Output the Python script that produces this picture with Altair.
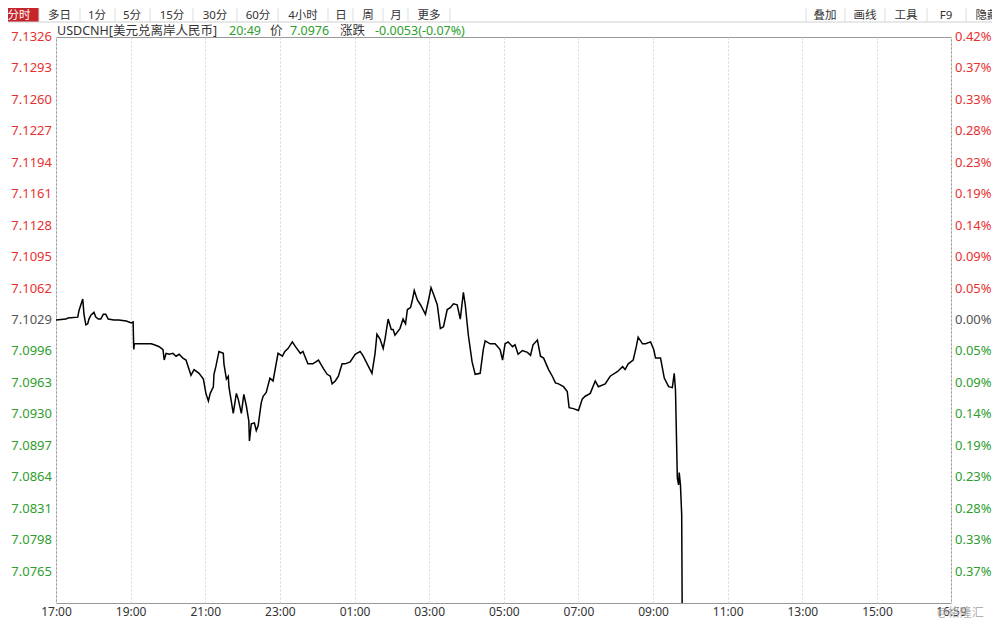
import json
import altair as alt
import pandas as pd

# ---------------- data ----------------
times = [
    "17:00", "17:16", "17:19", "17:35", "17:37", "17:43", "17:45", "17:48", "17:51", "17:53",
    "17:56", "18:01", "18:04", "18:08", "18:12", "18:16", "18:20", "18:24", "18:33", "18:41",
    "18:53", "19:01", "19:04", "19:05", "19:06", "19:12", "19:33", "19:38", "19:46", "19:52",
    "19:54", "19:57", "20:02", "20:08", "20:13", "20:18", "20:24", "20:29", "20:34", "20:37",
    "20:42", "20:50", "20:57", "21:01", "21:05", "21:08", "21:13", "21:14", "21:17", "21:22",
    "21:29", "21:30", "21:34", "21:37", "21:38", "21:45", "21:50", "21:53", "21:58", "22:02",
    "22:06", "22:10", "22:11", "22:14", "22:19", "22:22", "22:25", "22:30", "22:33", "22:38",
    "22:44", "22:49", "22:57", "23:04", "23:08", "23:13", "23:20", "23:25", "23:33", "23:37",
    "23:45", "23:53", "00:02", "00:10", "00:16", "00:21", "00:24", "00:29", "00:34", "00:40",
    "00:45", "00:53", "01:01", "01:09", "01:14", "01:28", "01:33", "01:36", "01:41", "01:46",
    "01:49", "01:54", "01:59", "02:02", "02:05", "02:13", "02:18", "02:22", "02:25", "02:30",
    "02:33", "02:36", "02:41", "02:46", "02:54", "02:59", "03:03", "03:07", "03:13", "03:18",
    "03:23", "03:29", "03:34", "03:39", "03:45", "03:50", "03:55", "03:58", "04:03", "04:09",
    "04:14", "04:22", "04:27", "04:30", "04:38", "04:46", "04:54", "04:58", "05:02", "05:07",
    "05:14", "05:18", "05:23", "05:30", "05:38", "05:43", "05:47", "05:54", "05:59", "06:04",
    "06:12", "06:18", "06:23", "06:28", "06:36", "06:42", "06:45", "06:52", "07:00", "07:06",
    "07:11", "07:19", "07:27", "07:32", "07:43", "07:51", "08:03", "08:11", "08:15", "08:20",
    "08:28", "08:33", "08:36", "08:43", "08:48", "08:56", "09:01", "09:04", "09:12", "09:18",
    "09:25", "09:31", "09:34", "09:36", "09:38", "09:39", "09:41", "09:42", "09:44", "09:46",
    "09:47",
]
prices = [
    7.1029, 7.1030, 7.1031, 7.1032, 7.1039, 7.1051, 7.1035, 7.1024, 7.1025, 7.1030,
    7.1034, 7.1037, 7.1032, 7.1030, 7.1030, 7.1035, 7.1035, 7.1030, 7.1029, 7.1029,
    7.1028, 7.1026, 7.1027, 7.0998, 7.1004, 7.1004, 7.1004, 7.1003, 7.1001, 7.0998,
    7.0987, 7.0994, 7.0993, 7.0994, 7.0991, 7.0993, 7.0989, 7.0987, 7.0977, 7.0971,
    7.0977, 7.0973, 7.0967, 7.0952, 7.0944, 7.0952, 7.0959, 7.0972, 7.0980, 7.0996,
    7.0994, 7.0983, 7.0967, 7.0970, 7.0959, 7.0931, 7.0952, 7.0946, 7.0931, 7.0951,
    7.0939, 7.0923, 7.0902, 7.0920, 7.0921, 7.0913, 7.0918, 7.0942, 7.0949, 7.0953,
    7.0968, 7.0965, 7.0994, 7.0991, 7.0996, 7.0999, 7.1006, 7.1001, 7.0994, 7.0996,
    7.0983, 7.0983, 7.0987, 7.0978, 7.0972, 7.0970, 7.0962, 7.0965, 7.0970, 7.0983,
    7.0983, 7.0985, 7.0993, 7.0996, 7.0991, 7.0973, 7.0994, 7.1014, 7.1009, 7.0999,
    7.1009, 7.1030, 7.1019, 7.1019, 7.1013, 7.1020, 7.1030, 7.1025, 7.1040, 7.1042,
    7.1050, 7.1060, 7.1050, 7.1045, 7.1035, 7.1050, 7.1063, 7.1056, 7.1045, 7.1020,
    7.1022, 7.1040, 7.1042, 7.1046, 7.1045, 7.1030, 7.1058, 7.1045, 7.1013, 7.0985,
    7.0972, 7.0973, 7.0998, 7.1007, 7.1004, 7.1004, 7.0998, 7.0987, 7.1004, 7.1006,
    7.1001, 7.1003, 7.0993, 7.0997, 7.0995, 7.0992, 7.1003, 7.1008, 7.0991, 7.0989,
    7.0977, 7.0970, 7.0963, 7.0962, 7.0959, 7.0954, 7.0937, 7.0936, 7.0934, 7.0946,
    7.0949, 7.0952, 7.0965, 7.0959, 7.0962, 7.0970, 7.0975, 7.0980, 7.0977, 7.0983,
    7.0987, 7.1001, 7.1011, 7.1004, 7.1004, 7.1006, 7.0998, 7.0989, 7.0989, 7.0968,
    7.0959, 7.0958, 7.0973, 7.0956, 7.0894, 7.0863, 7.0856, 7.0869, 7.0856, 7.0825,
    7.0700,
]
base_price = 7.1029
y_domain = [7.0732, 7.1326]
y_ticks = [7.1326, 7.1293, 7.1260, 7.1227, 7.1194, 7.1161, 7.1128, 7.1095, 7.1062,
           7.1029, 7.0996, 7.0963, 7.0930, 7.0897, 7.0864, 7.0831, 7.0798, 7.0765]
x_tick_minutes = [0, 120, 240, 360, 480, 600, 720, 840, 960, 1080, 1200, 1320, 1439]
x_tick_labels = ["17:00", "19:00", "21:00", "23:00", "01:00", "03:00", "05:00",
                 "07:00", "09:00", "11:00", "13:00", "15:00", "16:59"]
toolbar_left = ["分时", "多日", "1分", "5分", "15分", "30分", "60分", "4小时", "日", "周", "月", "更多"]
toolbar_right = ["叠加", "画线", "工具", "F9", "隐藏"]
header_parts = ["USDCNH[美元兑离岸人民币]", "20:49", "价", "7.0976", "涨跌", "-0.0053(-0.07%)"]
watermark = "@格隆汇"

# ---------------- styling / layout ----------------
FONT = "Noto Sans, Noto Sans CJK SC, sans-serif"
RED = "#e8312f"
GREEN = "#2e9e2e"
GRAY = "#555555"
W, H = 895, 566

def to_offset(t):
    h, m = map(int, t.split(":"))
    return (h * 60 + m - 17 * 60) % 1440

df = pd.DataFrame({"t": [to_offset(t) for t in times], "price": prices})

def tick_color(v):
    if v > base_price + 1e-6:
        return RED
    if v < base_price - 1e-6:
        return GREEN
    return GRAY

ticks_df = pd.DataFrame({
    "price": y_ticks,
    "left": [f"{v:.4f}" for v in y_ticks],
    "right": [f"{abs(v - base_price) / base_price * 100:.2f}%" for v in y_ticks],
    "color": [tick_color(v) for v in y_ticks],
})

y_scale = alt.Scale(domain=y_domain, nice=False, zero=False)
x_scale = alt.Scale(domain=[0, 1439], nice=False, zero=False)

label_expr = "{}[indexof({}, datum.value)]".format(
    json.dumps(x_tick_labels), json.dumps(x_tick_minutes))

line = alt.Chart(df).mark_line(color="#000000", strokeWidth=1.5, clip=True).encode(
    x=alt.X("t:Q", scale=x_scale,
            axis=alt.Axis(values=x_tick_minutes, labelExpr=label_expr, title=None,
                          grid=True, gridDash=[2, 2], gridColor="#d6d6d6",
                          ticks=False, domain=False, labelFlush=False,
                          labelOverlap=False, labelPadding=3, labelFont=FONT,
                          labelFontSize=12, labelColor="#333333")),
    y=alt.Y("price:Q", scale=y_scale,
            axis=alt.Axis(values=y_ticks, title=None, labels=False, grid=True,
                          gridDash=[2, 2], gridColor="#d6d6d6", ticks=False,
                          domain=False)),
)

left_labels = alt.Chart(ticks_df).mark_text(
    align="right", baseline="middle", font=FONT, fontSize=13
).encode(
    x=alt.value(-4),
    y=alt.Y("price:Q", scale=y_scale, axis=None),
    text="left:N",
    color=alt.Color("color:N", scale=None),
)

right_labels = alt.Chart(ticks_df).mark_text(
    align="left", baseline="middle", font=FONT, fontSize=13
).encode(
    x=alt.value(W + 4),
    y=alt.Y("price:Q", scale=y_scale, axis=None),
    text="right:N",
    color=alt.Color("color:N", scale=None),
)

one = alt.Data(values=[{}])

def txt(s, x, y, color, size=13, align="left"):
    return alt.Chart(one).mark_text(
        text=s, align=align, baseline="middle", font=FONT, fontSize=size, color=color
    ).encode(x=alt.value(x), y=alt.value(y))

def vrule(x, y1, y2, color="#dddddd"):
    return alt.Chart(one).mark_rule(color=color, strokeWidth=1).encode(
        x=alt.value(x), y=alt.value(y1), y2=alt.value(y2))

layers = [line, left_labels, right_labels]

# toolbar
TB_TOP, TB_BOT, TB_MID = -29, -15, -21
layers.append(alt.Chart(one).mark_rect(color="#c4262c").encode(
    x=alt.value(-48), x2=alt.value(-17), y=alt.value(TB_TOP), y2=alt.value(TB_BOT)))
layers.append(alt.Chart(one).mark_rule(color="#d0d0d0").encode(
    x=alt.value(-48), x2=alt.value(W + 41), y=alt.value(TB_BOT)))
left_seps = [-17, 24, 59, 94, 137, 181, 222, 272, 297, 327, 352, 394]
left_centers = [-37, 3.5, 41, 76, 116, 159, 202, 247, 285, 312, 340, 373]
for i, (lab, cx) in enumerate(zip(toolbar_left, left_centers)):
    layers.append(txt(lab, cx, TB_MID, "#ffffff" if i == 0 else "#333333", 11.5, "center"))
for sx in left_seps:
    layers.append(vrule(sx, TB_TOP, TB_BOT))
right_seps = [750, 789, 829, 871, 910]
right_centers = [769, 809, 850, 890, 931]
for lab, cx in zip(toolbar_right, right_centers):
    layers.append(txt(lab, cx, TB_MID, "#333333", 11.5, "center"))
for sx in right_seps:
    layers.append(vrule(sx, TB_TOP, TB_BOT))

# header
header_x = [1, 173, 214, 234, 284, 319]
header_colors = ["#333333", GREEN, "#333333", GREEN, "#333333", GREEN]
for s, hx, c in zip(header_parts, header_x, header_colors):
    layers.append(txt(s, hx, -6.5, c, 12.5))

# watermark
layers.append(txt(watermark, 881, H + 10, "#b0b0b0", 12))

chart = alt.layer(*layers).properties(
    width=W, height=H,
    autosize=alt.AutoSizeParams(type="none"),
    padding={"left": 48, "top": 29, "right": 41, "bottom": 18},
    background="#ffffff",
).configure_view(stroke="#999999", strokeWidth=1)

chart.save("out.html", embed_options={"renderer": "svg", "actions": False})
